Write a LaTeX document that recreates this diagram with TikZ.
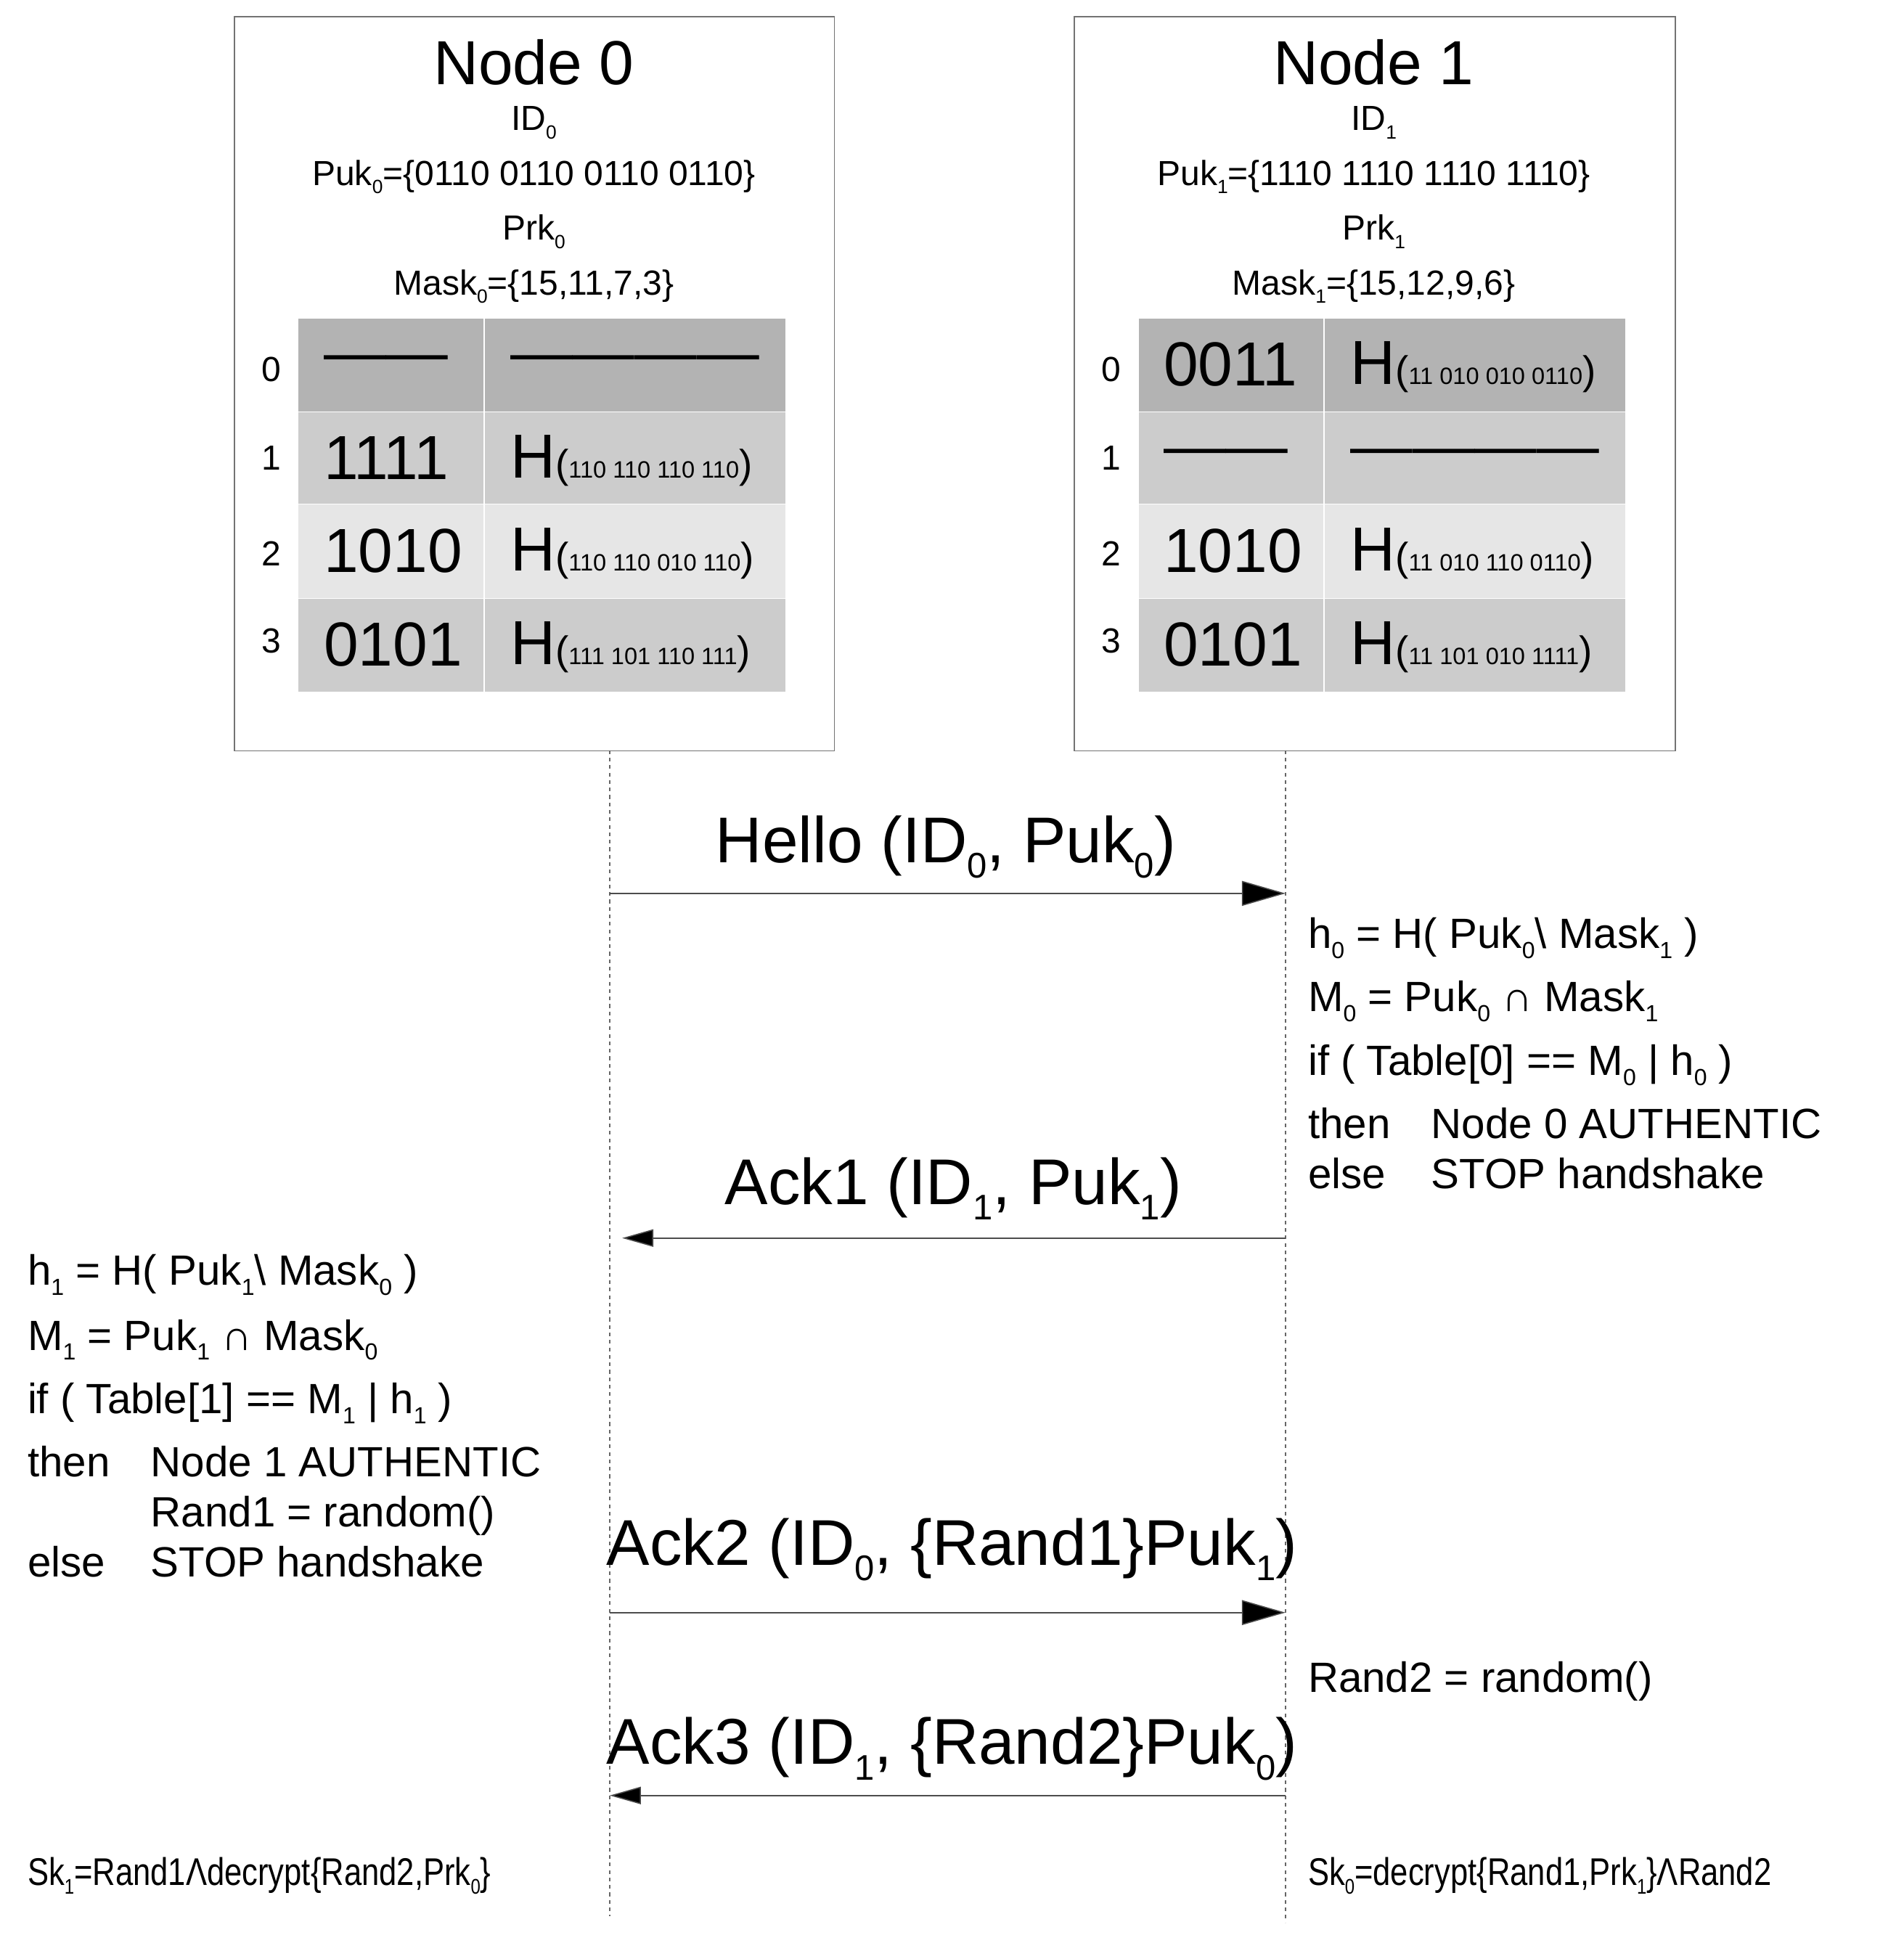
\documentclass[tikz,border=0pt]{standalone}
\usepackage{fontspec}
\setmainfont{Liberation Sans}
\usetikzlibrary{arrows.meta}
\newcommand\sbx[1]{\raisebox{-0.45ex}{\scalebox{0.55}{#1}}}
\newcommand\fs[1]{\fontsize{#1}{#1}\selectfont}
\newcommand\Hx[1]{{\fs{50}H}{\fs{32}(}{\fs{19}#1}{\fs{32})}}
\definecolor{rA}{HTML}{B3B3B3}
\definecolor{rB}{HTML}{CCCCCC}
\definecolor{rC}{HTML}{E6E6E6}
\begin{document}
\begin{tikzpicture}[x=1pt,y=-1pt,
  boxx/.style={draw=black!55,line width=0.8pt},
  life/.style={draw=black!60,line width=0.8pt,dash pattern=on 3pt off 3pt},
  msg/.style={draw=black!70,line width=0.9pt,-{Triangle[length=35pt,width=20pt,fill=black]}},
  hdr/.style={anchor=base,inner sep=0pt},
  cell/.style={anchor=west,inner sep=0pt,font=\fs{50}},
  idx/.style={anchor=center,inner sep=0pt,font=\fs{28}},
  txt/.style={anchor=base west,inner sep=0pt,font=\fs{34}},
  lbl/.style={anchor=base,inner sep=0pt,font=\fs{52}}]
\useasboundingbox (0,0) rectangle (1530,1568);
% boxes
\node[boxx,minimum width=482pt,minimum height=590pt,anchor=north west,inner sep=0pt] (box0) at (188,13) {};
\node[boxx,minimum width=483pt,minimum height=590pt,anchor=north west,inner sep=0pt] (box1) at (863,13) {};
% tables
\foreach \ox in {0,675}{
  \fill[rA] (240+\ox,256) rectangle (631+\ox,331);
  \fill[rB] (240+\ox,331) rectangle (631+\ox,405);
  \fill[rC] (240+\ox,405) rectangle (631+\ox,481);
  \fill[rB] (240+\ox,481) rectangle (631+\ox,556);
  \draw[white,line width=1pt] (389+\ox,256) -- (389+\ox,556);
  \draw[white,line width=0.6pt] (240+\ox,331) -- (631+\ox,331) (240+\ox,405) -- (631+\ox,405) (240+\ox,481) -- (631+\ox,481);
}
% node 0 header
\node[hdr,font=\fs{50}] (t0) at (429,68) {Node 0};
\node[hdr,font=\fs{28}] (id0) at (429,105) {ID\sbx{0}};
\node[hdr,font=\fs{28}] (pk0) at (429,149) {Puk\sbx{0}=\{0110 0110 0110 0110\}};
\node[hdr,font=\fs{28}] (pr0) at (429,193) {Prk\sbx{0}};
\node[hdr,font=\fs{28}] (mk0) at (429,237) {Mask\sbx{0}=\{15,11,7,3\}};
\node[idx] (i00) at (218,297) {0};
\node[idx] (i01) at (218,368) {1};
\node[idx] (i02) at (218,445) {2};
\node[idx] (i03) at (218,515) {3};
\node[cell] (a00) at (260,293) {------};
\node[cell] (b00) at (410,293) {------------};
\node[cell] (a01) at (260,368) {1111};
\node[cell] (b01) at (410,370) {\Hx{110 110 110 110}};
\node[cell] (a02) at (260,443) {1010};
\node[cell] (b02) at (410,445) {\Hx{110 110 010 110}};
\node[cell] (a03) at (260,518) {0101};
\node[cell] (b03) at (410,520) {\Hx{111 101 110 111}};
% node 1 header
\node[hdr,font=\fs{50}] (t1) at (1104,68) {Node 1};
\node[hdr,font=\fs{28}] (id1) at (1104,105) {ID\sbx{1}};
\node[hdr,font=\fs{28}] (pk1) at (1104,149) {Puk\sbx{1}=\{1110 1110 1110 1110\}};
\node[hdr,font=\fs{28}] (pr1) at (1104,193) {Prk\sbx{1}};
\node[hdr,font=\fs{28}] (mk1) at (1104,237) {Mask\sbx{1}=\{15,12,9,6\}};
\node[idx] (i10) at (893,297) {0};
\node[idx] (i11) at (893,368) {1};
\node[idx] (i12) at (893,445) {2};
\node[idx] (i13) at (893,515) {3};
\node[cell] (a10) at (935,293) {0011};
\node[cell] (b10) at (1085,295) {\Hx{11 010 010 0110}};
\node[cell] (a11) at (935,368) {------};
\node[cell] (b11) at (1085,368) {------------};
\node[cell] (a12) at (935,443) {1010};
\node[cell] (b12) at (1085,445) {\Hx{11 010 110 0110}};
\node[cell] (a13) at (935,518) {0101};
\node[cell] (b13) at (1085,520) {\Hx{11 101 010 1111}};
% lifelines
\coordinate (l0t) at (490,603); \coordinate (l0b) at (490,1540);
\coordinate (l1t) at (1033,603); \coordinate (l1b) at (1033,1545);
\draw[life] (l0t) -- (l0b);
\draw[life] (l1t) -- (l1b);
% messages
\coordinate (h0) at (490,718); \coordinate (h1) at (1033,718);
\draw[msg] (h0) -- (h1);
\node[lbl] (hl) at (760,693) {Hello (ID\sbx{0}, Puk\sbx{0})};
\coordinate (k1a) at (1033,995); \coordinate (k1b) at (500,995);
\draw[msg,-{Triangle[length=25pt,width=14pt,fill=black]}] (k1a) -- (k1b);
\node[lbl] (k1l) at (766,968) {Ack1 (ID\sbx{1}, Puk\sbx{1})};
\coordinate (k2a) at (490,1296); \coordinate (k2b) at (1033,1296);
\draw[msg] (k2a) -- (k2b);
\node[lbl] (k2l) at (765,1258) {Ack2 (ID\sbx{0}, \{Rand1\}Puk\sbx{1})};
\coordinate (k3a) at (1033,1443); \coordinate (k3b) at (490,1443);
\draw[msg,-{Triangle[length=25pt,width=14pt,fill=black]}] (k3a) -- (k3b);
\node[lbl] (k3l) at (765,1418) {Ack3 (ID\sbx{1}, \{Rand2\}Puk\sbx{0})};
% right text block
\node[txt] (r1) at (1051,762) {h\sbx{0} = H( Puk\sbx{0}\textbackslash{} Mask\sbx{1} )};
\node[txt] (r2) at (1051,813) {M\sbx{0} = Puk\sbx{0} ∩ Mask\sbx{1}};
\node[txt] (r3) at (1051,864) {if ( Table[0] == M\sbx{0} | h\sbx{0} )};
\node[txt] (r4) at (1051,915) {then};
\node[txt] (r4b) at (1150,915) {Node 0 AUTHENTIC};
\node[txt] (r5) at (1051,955) {else};
\node[txt] (r5b) at (1150,955) {STOP handshake};
% left text block
\node[txt] (s1) at (22,1033) {h\sbx{1} = H( Puk\sbx{1}\textbackslash{} Mask\sbx{0} )};
\node[txt] (s2) at (22,1085) {M\sbx{1} = Puk\sbx{1} ∩ Mask\sbx{0}};
\node[txt] (s3) at (22,1136) {if ( Table[1] == M\sbx{1} | h\sbx{1} )};
\node[txt] (s4) at (22,1187) {then};
\node[txt] (s4b) at (121,1187) {Node 1 AUTHENTIC};
\node[txt] (s5b) at (121,1227) {Rand1 = random()};
\node[txt] (s6) at (22,1267) {else};
\node[txt] (s6b) at (121,1267) {STOP handshake};
\node[txt] (rr) at (1051,1360) {Rand2 = random()};
% session keys
\node[txt,font=\fs{31}] (sk1) at (22,1515) {\scalebox{0.82}[1]{Sk\sbx{1}=Rand1Λdecrypt\{Rand2,Prk\sbx{0}\}}};
\node[txt,font=\fs{31}] (sk0) at (1051,1515) {\scalebox{0.82}[1]{Sk\sbx{0}=decrypt\{Rand1,Prk\sbx{1}\}ΛRand2}};
\end{tikzpicture}
\end{document}
